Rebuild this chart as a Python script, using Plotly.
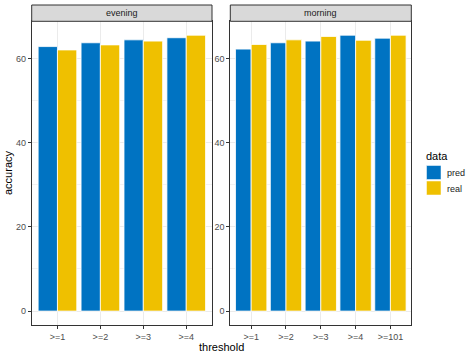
import plotly.graph_objects as go

eve_cats = [">=1", ">=2", ">=3", ">=4"]
eve_pred = [62.8, 63.7, 64.4, 64.9]
eve_real = [62.0, 63.2, 64.1, 65.5]

mor_cats = [">=1", ">=2", ">=3", ">=4", ">=101"]
mor_pred = [62.2, 63.7, 64.1, 65.5, 64.8]
mor_real = [63.3, 64.4, 65.2, 64.3, 65.5]

y_ticks = [0, 20, 40, 60]
panels = ["evening", "morning"]
series = ["pred", "real"]

BLUE = "#0073C2"
GOLD = "#EFC000"
FONT = "Liberation Sans, Arial, sans-serif"

W, H = 474, 356
def fx(px): return px / W
def fy(py): return 1 - py / H

fig = go.Figure()
for cats, pred, real, xa, ya in [(eve_cats, eve_pred, eve_real, "x", "y"),
                                 (mor_cats, mor_pred, mor_real, "x2", "y2")]:
    fig.add_trace(go.Bar(x=cats, y=pred, name="pred", marker=dict(color=BLUE, line=dict(color="white", width=0.8)),
                         xaxis=xa, yaxis=ya, showlegend=False))
    fig.add_trace(go.Bar(x=cats, y=real, name="real", marker=dict(color=GOLD, line=dict(color="white", width=0.8)),
                         xaxis=xa, yaxis=ya, showlegend=False))

p1 = (31.7, 212.0)
p2 = (230.3, 411.3)
ptop, pbot = 21.3, 325.0
stop = 5.0

yrange = [-3.3, 68.8]
common_y = dict(range=yrange, tickvals=y_ticks, ticks="outside", ticklen=3, tickcolor="#333333",
                tickfont=dict(size=9, color="#4D4D4D", family=FONT), showgrid=True, gridcolor="#EBEBEB",
                gridwidth=1, minor=dict(dtick=10, showgrid=True, gridcolor="#F2F2F2", tick0=10),
                showline=True, linecolor="#333333", linewidth=1, mirror=True, zeroline=False,
                automargin=False, domain=[fy(pbot), fy(ptop)])
common_x = dict(type="category", ticks="outside", ticklen=3, tickcolor="#333333",
                tickfont=dict(size=9, color="#4D4D4D", family=FONT), showgrid=True, gridcolor="#EBEBEB",
                showline=True, linecolor="#333333", linewidth=1, mirror=True, zeroline=False,
                automargin=False)

fig.update_layout(
    width=W, height=H, margin=dict(l=0, r=0, t=0, b=0, autoexpand=False),
    paper_bgcolor="white", plot_bgcolor="white",
    barmode="group", bargap=0.1, bargroupgap=0.0,
    font=dict(family=FONT), showlegend=False,
    xaxis=dict(common_x, domain=[fx(p1[0]), fx(p1[1])], range=[-0.6, 3.6], anchor="y"),
    yaxis=dict(common_y, anchor="x"),
    xaxis2=dict(common_x, domain=[fx(p2[0]), fx(p2[1])], range=[-0.6, 4.6], anchor="y2"),
    yaxis2=dict(common_y, anchor="x2"),
)

for (a, b), name in zip([p1, p2], panels):
    fig.add_shape(type="rect", xref="paper", yref="paper", x0=fx(a), x1=fx(b), y0=fy(ptop), y1=fy(stop),
                  fillcolor="#D9D9D9", line=dict(color="#333333", width=1))
    fig.add_annotation(xref="paper", yref="paper", x=fx((a + b) / 2), y=fy((ptop + stop) / 2), text=name,
                       showarrow=False, font=dict(size=9, color="#1A1A1A"), xanchor="center", yanchor="middle")

# legend
fig.add_annotation(xref="paper", yref="paper", x=fx(424), y=fy(156), text="data", showarrow=False,
                   font=dict(size=11, color="#000000"), xanchor="left", yanchor="middle")
for i, (s, c) in enumerate(zip(series, [BLUE, GOLD])):
    y0 = 165.5 + i * 15.5
    fig.add_shape(type="rect", xref="paper", yref="paper", x0=fx(426.5), x1=fx(441), y0=fy(y0 + 14), y1=fy(y0),
                  fillcolor=c, line=dict(color="white", width=0.5))
    fig.add_annotation(xref="paper", yref="paper", x=fx(445), y=fy(y0 + 7.5), text=s, showarrow=False,
                       font=dict(size=9, color="#1A1A1A"), xanchor="left", yanchor="middle")

fig.add_annotation(xref="paper", yref="paper", x=fx(221), y=fy(347), text="threshold", showarrow=False,
                   font=dict(size=11, color="#000000"), xanchor="center", yanchor="middle")
fig.add_annotation(xref="paper", yref="paper", x=fx(8), y=fy(173), text="accuracy", showarrow=False,
                   textangle=-90, font=dict(size=11, color="#000000"), xanchor="center", yanchor="middle")

fig.write_html("out.html", config={"displayModeBar": False, "staticPlot": True},
               post_script="document.body.style.margin='0';document.body.style.overflow='hidden';")
